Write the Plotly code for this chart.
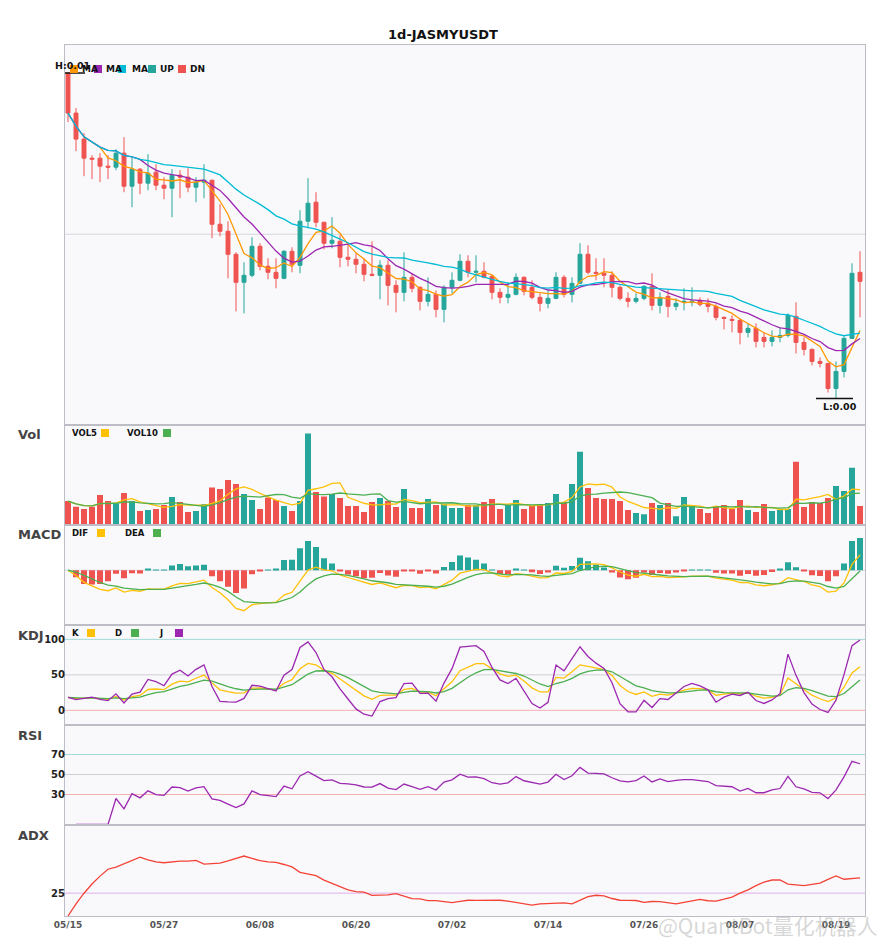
import numpy as np
import pandas as pd
import plotly.graph_objects as go
from plotly.subplots import make_subplots

# daily candles, prices in 1e-5 USDT, volume in millions
dates = pd.date_range("2022-05-15", periods=100, freq="D")

open_ = [1443, 1323, 1245, 1188, 1188, 1164, 1161, 1203, 1104, 1155,
         1113, 1146, 1107, 1098, 1137, 1131, 1101, 1116, 1122, 990,
         969, 900, 816, 837, 924, 864, 846, 828, 909, 867,
         999, 1056, 996, 933, 939, 891, 885, 870, 840, 837,
         867, 807, 786, 831, 801, 759, 780, 735, 801, 822,
         879, 846, 849, 834, 786, 771, 780, 831, 801, 771,
         753, 768, 831, 780, 813, 900, 846, 843, 837, 801,
         768, 759, 768, 804, 747, 774, 744, 756, 756, 762,
         753, 744, 711, 705, 702, 666, 678, 651, 639, 651,
         657, 714, 636, 615, 579, 573, 498, 549, 648, 846]
high = [1443, 1338, 1263, 1197, 1203, 1197, 1215, 1251, 1188, 1158,
        1200, 1170, 1131, 1155, 1152, 1158, 1131, 1170, 1122, 1050,
        999, 906, 876, 951, 933, 888, 888, 912, 921, 1032,
        1128, 1086, 996, 1011, 957, 927, 903, 888, 939, 882,
        882, 822, 906, 843, 804, 831, 792, 807, 846, 900,
        897, 897, 876, 837, 798, 816, 843, 834, 822, 783,
        792, 846, 837, 831, 933, 927, 888, 888, 849, 807,
        786, 783, 807, 843, 786, 795, 768, 798, 801, 771,
        768, 750, 714, 717, 708, 693, 693, 666, 672, 681,
        723, 756, 651, 618, 591, 573, 579, 654, 873, 909]
low = [1296, 1209, 1134, 1125, 1116, 1125, 1152, 1086, 1041, 1080,
       1092, 1092, 1065, 1011, 1068, 1086, 1056, 1068, 948, 954,
       828, 729, 723, 831, 852, 825, 798, 825, 846, 843,
       978, 981, 915, 918, 861, 864, 843, 819, 834, 765,
       747, 726, 759, 786, 732, 744, 711, 696, 783, 819,
       831, 816, 828, 765, 753, 753, 777, 777, 765, 729,
       738, 765, 771, 756, 810, 840, 822, 801, 771, 762,
       741, 753, 762, 732, 723, 711, 732, 732, 744, 744,
       726, 702, 675, 666, 630, 651, 621, 621, 624, 636,
       651, 603, 597, 567, 561, 486, 468, 531, 648, 711]
close = [1323, 1245, 1188, 1185, 1164, 1161, 1203, 1104, 1155, 1113,
         1143, 1107, 1098, 1137, 1131, 1101, 1116, 1122, 990, 969,
         900, 816, 837, 924, 864, 846, 828, 909, 870, 999,
         1053, 996, 933, 942, 891, 885, 870, 840, 837, 867,
         807, 786, 831, 798, 759, 780, 735, 801, 822, 879,
         846, 849, 831, 786, 771, 780, 831, 789, 771, 753,
         768, 831, 780, 813, 900, 846, 843, 837, 801, 768,
         759, 768, 804, 747, 771, 744, 753, 759, 759, 750,
         744, 711, 708, 702, 666, 678, 639, 639, 651, 657,
         717, 636, 615, 579, 573, 498, 549, 648, 843, 819]
volume = [233, 177, 153, 177, 293, 233, 210, 313, 233, 133,
          143, 153, 193, 273, 223, 123, 133, 203, 367, 353,
          443, 403, 303, 243, 153, 267, 243, 183, 133, 233,
          903, 323, 277, 303, 263, 183, 183, 123, 223, 263,
          233, 173, 353, 163, 163, 253, 193, 203, 163, 163,
          193, 193, 223, 253, 153, 193, 243, 153, 183, 193,
          213, 303, 223, 403, 723, 363, 263, 253, 253, 233,
          143, 113, 103, 213, 193, 213, 83, 273, 193, 153,
          113, 183, 193, 153, 243, 143, 123, 203, 133, 143,
          153, 623, 173, 223, 213, 263, 383, 333, 563, 183]

UP, DN = "#26a69a", "#ef5350"
FONT = "DejaVu Sans"

df = pd.DataFrame({"open": open_, "high": high, "low": low,
                   "close": close, "vol": volume}, index=dates)
df[["open", "high", "low", "close"]] /= 1e5
c, h, l = df["close"], df["high"], df["low"]

# indicators
ma5 = c.rolling(5, min_periods=1).mean()
ma10 = c.rolling(10, min_periods=1).mean()
ma20 = c.rolling(20, min_periods=1).mean()
vol5 = df["vol"].rolling(5, min_periods=1).mean()
vol10 = df["vol"].rolling(10, min_periods=1).mean()

# short MACD (6, 13, 5)
dif = c.ewm(span=6, adjust=False).mean() - c.ewm(span=13, adjust=False).mean()
dea = dif.ewm(span=5, adjust=False).mean()
hist = 2 * (dif - dea)

ln = l.rolling(9, min_periods=1).min()
hn = h.rolling(9, min_periods=1).max()
rsv = (c - ln) / (hn - ln) * 100
k = rsv.ewm(com=2).mean()
d = k.ewm(com=2).mean()
j = 3 * k - 2 * d

delta = c.diff()
gain = delta.clip(lower=0).ewm(alpha=1 / 14).mean()
loss = (-delta.clip(upper=0)).ewm(alpha=1 / 14).mean()
rsi = 100 * gain / (gain + loss)

up_move = h.diff().fillna(0)
dn_move = (-l.diff()).fillna(0)
pdm = np.where((up_move > dn_move) & (up_move > 0), up_move, 0.0)
mdm = np.where((dn_move > up_move) & (dn_move > 0), dn_move, 0.0)
tr = pd.concat([h - l, (h - c.shift()).abs(), (l - c.shift()).abs()], axis=1).max(axis=1)
atr = tr.ewm(span=14, adjust=False).mean()
pdi = 100 * pd.Series(pdm, index=dates).ewm(span=14, adjust=False).mean() / atr
mdi = 100 * pd.Series(mdm, index=dates).ewm(span=14, adjust=False).mean() / atr
dx = (100 * (pdi - mdi).abs() / (pdi + mdi)).fillna(0)
adx = dx.ewm(span=14, adjust=False).mean()

up_day = df["close"] >= df["open"]
bar_colors = [UP if u else DN for u in up_day]
hist_colors = [UP if v >= 0 else DN for v in hist]
day_ms = 86400000

fig = make_subplots(rows=6, cols=1, shared_xaxes=True, vertical_spacing=0,
                    row_heights=[379.5, 100, 100, 100, 100, 91.5])

fig.add_trace(go.Candlestick(x=dates, open=df["open"], high=h, low=l, close=c,
                             increasing=dict(line=dict(color=UP, width=1), fillcolor=UP),
                             decreasing=dict(line=dict(color=DN, width=1), fillcolor=DN),
                             whiskerwidth=0), row=1, col=1)
for s, col in [(ma5, "#ff9800"), (ma10, "#9c27b0"), (ma20, "#00bcd4")]:
    fig.add_trace(go.Scatter(x=dates, y=s, mode="lines", line=dict(color=col, width=1.3)), row=1, col=1)

fig.add_trace(go.Bar(x=dates, y=df["vol"], marker_color=bar_colors, marker_line_width=0,
                     width=0.75 * day_ms), row=2, col=1)
fig.add_trace(go.Scatter(x=dates, y=vol5, mode="lines", line=dict(color="#ffc107", width=1.3)), row=2, col=1)
fig.add_trace(go.Scatter(x=dates, y=vol10, mode="lines", line=dict(color="#4caf50", width=1.3)), row=2, col=1)

fig.add_trace(go.Bar(x=dates, y=hist, marker_color=hist_colors, marker_line_width=0,
                     width=0.75 * day_ms), row=3, col=1)
fig.add_trace(go.Scatter(x=dates, y=dif, mode="lines", line=dict(color="#ffc107", width=1.3)), row=3, col=1)
fig.add_trace(go.Scatter(x=dates, y=dea, mode="lines", line=dict(color="#4caf50", width=1.3)), row=3, col=1)

for s, col in [(k, "#ffc107"), (d, "#4caf50"), (j, "#9c27b0")]:
    fig.add_trace(go.Scatter(x=dates, y=s, mode="lines", line=dict(color=col, width=1.3)), row=4, col=1)
fig.add_trace(go.Scatter(x=dates, y=rsi, mode="lines", line=dict(color="#9c27b0", width=1.3)), row=5, col=1)
fig.add_trace(go.Scatter(x=dates, y=adx, mode="lines", line=dict(color="#f44336", width=1.3)), row=6, col=1)

# reference lines
fig.add_hline(y=0.0096, row=1, col=1, line=dict(color="#d6d6de", width=1), layer="below")
fig.add_hline(y=0, row=3, col=1, line=dict(color="#d6d6de", width=1), layer="below")
for row, lines in [(4, [(100, "#a3d9d6"), (50, "#cfcfd4"), (0, "#f6b0b0")]),
                   (5, [(70, "#a3d9d6"), (50, "#cfcfd4"), (30, "#f6b0b0")]),
                   (6, [(25, "#dcaee6")])]:
    for y, col in lines:
        fig.add_hline(y=y, row=row, col=1, line=dict(color=col, width=1), layer="below")

x_range = [dates[0] - pd.Timedelta(hours=9), dates[-1] + pd.Timedelta(hours=15)]
tickfont = dict(family=FONT, size=9, color="#555", weight="bold")
for r in range(1, 7):
    fig.update_xaxes(row=r, col=1, range=x_range, showgrid=False, showline=True, mirror=True,
                     linecolor="#bdbdc5", linewidth=1, rangeslider_visible=False,
                     showticklabels=(r == 6), tickformat="%m/%d", dtick=12 * day_ms,
                     tick0="2022-05-15", ticks="", tickfont=tickfont)
    fig.update_yaxes(row=r, col=1, showgrid=False, showline=True, mirror=True,
                     linecolor="#bdbdc5", linewidth=1, zeroline=False, ticks="",
                     ticklabelstandoff=-3,
                     tickfont=dict(family=FONT, size=10, color="#222", weight="bold"))

m = float(min(dif.min(), dea.min(), hist.min()))
fig.update_yaxes(row=1, col=1, range=[0.0039, 0.01527], showticklabels=False)
fig.update_yaxes(row=2, col=1, range=[0, max(volume) * 1.1], showticklabels=False)
fig.update_yaxes(row=3, col=1, range=[1.34 * m, -1.13 * m], showticklabels=False)
fig.update_yaxes(row=4, col=1, range=[-20, 121], tickvals=[0, 50, 100])
fig.update_yaxes(row=5, col=1, range=[0, 100], tickvals=[30, 50, 70])
fig.update_yaxes(row=6, col=1, range=[0, 100], tickvals=[25])

# pixel helpers for overlay text (page pixels; the page body adds an 8px offset)
OFF = 8
L, T, W, H = 57, 37, 800, 871
def px_x(px):
    return (px - OFF - L) / W
def px_y(py):
    return (T + H - (py - OFF)) / H

annots = []
def label(text, xpx, ypx, size=9, color="#111", anchor="left"):
    annots.append(dict(text=text, x=px_x(xpx), y=px_y(ypx), xref="paper", yref="paper",
                       xanchor=anchor, yanchor="middle", showarrow=False,
                       font=dict(family=FONT, size=size, color=color, weight="bold")))
def square(xpx, ypx, col):
    fig.add_shape(type="rect", xref="paper", yref="paper", x0=px_x(xpx), x1=px_x(xpx + 8),
                  y0=px_y(ypx + 4), y1=px_y(ypx - 4), fillcolor=col, line_width=0)

# high / low markers
imax, imin = int(np.argmax(h.values)), int(np.argmin(l.values))
for i, val, txt, yanchor, shift in [(imax, h.iloc[imax], f"H:{h.max():.2f}", "bottom", 0),
                                     (imin, l.iloc[imin], f"L:{l.min():.2f}", "top", -1)]:
    fig.add_shape(type="line", xref="x", yref="y", xsizemode="pixel", xanchor=dates[i],
                  x0=-20, x1=17, y0=val, y1=val, line=dict(color="#111", width=1.5))
    annots.append(dict(text=txt, x=dates[i], y=val, xref="x", yref="y", xshift=4, yshift=shift,
                       xanchor="center", yanchor=yanchor, showarrow=False,
                       font=dict(family=FONT, size=9.5, color="#111", weight="bold")))

# legends
for sx, col, tx, txt in [(70, "#ff9800", 80, "MA"), (94, "#9c27b0", 104, "MA"),
                         (118, "#00bcd4", 130, "MA"), (148, UP, 158, "UP"), (178, DN, 188, "DN")]:
    square(sx, 69, col)
    label(txt, tx, 69)
for ypx, items in [(433, [("VOL5", 70, "#ffc107", 101), ("VOL10", 125, "#4caf50", 163)]),
                   (533, [("DIF", 70, "#ffc107", 97), ("DEA", 123, "#4caf50", 153)]),
                   (633, [("K", 70, "#ffc107", 87), ("D", 113, "#4caf50", 131), ("J", 157, "#9c27b0", 175)])]:
    for txt, tx, col, sx in items:
        label(txt, tx, ypx, size=8.5)
        square(sx, ypx, col)

for txt, ypx in [("Vol", 434), ("MACD", 534), ("KDJ", 635), ("RSI", 735), ("ADX", 835)]:
    label(txt, 16, ypx, size=13, color="#444")

annots.append(dict(text="@QuantBot量化机器人", x=px_x(880), y=px_y(925), xref="paper", yref="paper",
                   xanchor="right", yanchor="middle", showarrow=False,
                   font=dict(family="Noto Sans CJK SC", size=21, color="rgba(165,165,165,0.45)")))

fig.update_layout(
    width=877, height=942, showlegend=False, annotations=annots,
    margin=dict(l=57, r=20, t=37, b=34),
    paper_bgcolor="white", plot_bgcolor="#f9f9fc", bargap=0.25,
    title=dict(text="1d-JASMYUSDT", x=px_x(443) * W / 877 + L / 877, xref="container",
               y=1 - (34 - OFF) / 942, yanchor="middle",
               font=dict(family=FONT, size=13, color="#111", weight="bold")),
)

fig.write_html("out.html")
